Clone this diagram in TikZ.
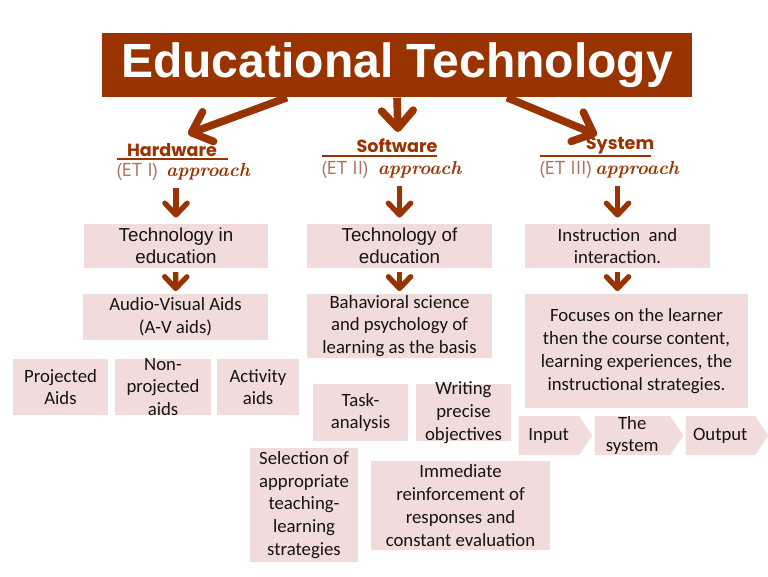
\documentclass[tikz,border=0pt]{standalone}
\usepackage{fontspec}
\usepackage{xcolor}
\usepackage{tikz}
\usetikzlibrary{arrows.meta,shapes.symbols}
\setmainfont{Carlito}
\newfontfamily\arialfont{Liberation Sans}
\newfontfamily\headfont{Poppins}
\newfontfamily\thinfont{PT Sans}
\newfontfamily\apprfont{Latin Modern Roman}
\definecolor{rust}{RGB}{153,51,0}
\definecolor{boxpink}{RGB}{242,220,219}
\definecolor{subgray}{RGB}{170,115,95}
\definecolor{txt}{RGB}{20,20,20}
\newcommand{\apprtxt}{{\apprfont\bfseries\itshape\color{rust}\fontsize{16}{16}\selectfont approach}}

\begin{document}
\begin{tikzpicture}[x=0.03cm, y=-0.03cm, line width=1pt,
  sz/.style 2 args={minimum width=#1*0.03cm, minimum height=#2*0.03cm},
  box/.style={fill=boxpink, text=txt, align=center, inner sep=0pt, font=\fontsize{16}{19.5}\selectfont},
  chev/.style={box, shape=signal, signal to=east, signal pointer angle=110, anchor=west},
  bigarr/.style={draw=rust, line width=6.5pt, -{Straight Barb[length=15pt,width=27pt,round]}},
  arr/.style={draw=rust, line width=4.5pt, -{Straight Barb[length=10pt,width=19pt,round]}},
  head/.style={text=rust, font=\headfont\bfseries\fontsize{15}{16}\selectfont, inner sep=0pt},
  sub/.style={text=subgray, font=\thinfont\fontsize{16}{18}\selectfont, inner sep=0pt, anchor=west},
  uline/.style={draw=rust, line width=1.2pt}]
\useasboundingbox (0,0) rectangle (768,576);

% title
\node[fill=rust, text=white, sz={590}{64}, font=\arialfont\bfseries\fontsize{41}{41}\selectfont] (title) at (397,65) {Educational Technology};

% three approaches
\node[head] (hw) at (172,150) {Hardware};
\draw[uline] (117,159) -- (228,159);
\node[sub] (hwsub) at (116,172) {(ET I)\hspace{7pt}\apprtxt};

\node[head] (sw) at (397,146) {Software};
\draw[uline] (322,156) -- (437,156);
\node[sub] (swsub) at (321,170) {(ET II)\hspace{8pt}\apprtxt};

\node[head] (sys) at (620,146) {System};
\draw[uline] (540,156) -- (651,156);
\node[sub] (syssub) at (539,170) {(ET III)\hspace{3pt}\apprtxt};

\coordinate (hwtip) at (188,134);
\coordinate (swtip) at (398,132);
\coordinate (systip) at (597,135);
\draw[bigarr] (287,0 |- title.south) -- (hwtip);
\draw[bigarr] (title.south) -- (swtip);
\draw[bigarr] (507,0 |- title.south) -- (systip);

% boxes
\node[box, sz={184}{44}, font=\arialfont\fontsize{16}{18.5}\selectfont] (techin) at (176,246) {Technology in\\education};
\node[box, sz={185}{44}, font=\arialfont\fontsize{16}{18.5}\selectfont] (techof) at (399.5,246) {Technology of\\education};
\node[box, sz={185}{44}] (instr) at (617.5,246) {Instruction\ \ and\\interaction.};

\node[box, sz={185}{46}] (av) at (175.5,317) {Audio-Visual Aids\\(A-V aids)};
\node[box, sz={185}{64}] (behav) at (399.5,326) {Bahavioral science\\and psychology of\\learning as the basis};
\node[box, sz={223}{114}] (focus) at (636.5,351) {Focuses on the learner\\then the course content,\\learning experiences, the\\instructional strategies.};

\node[box, sz={95}{56}] (proj) at (60.5,387) {Projected\\Aids};
\node[box, sz={96}{56}, inner ysep=-6pt] (nonproj) at (163,387) {Non-\\projected\\aids};
\node[box, sz={82}{56}] (act) at (258,387) {Activity\\aids};

\node[box, sz={95}{57}] (task) at (360.5,412.5) {Task-\\analysis};
\node[box, sz={95}{57}, inner ysep=-6pt] (writing) at (463.5,412.5) {Writing\\precise\\objectives};
\node[box, sz={108}{114}] (select) at (304,505) {Selection of\\appropriate\\teaching-\\learning\\strategies};
\node[box, sz={179}{89}] (immed) at (460.5,505.5) {Immediate\\reinforcement of\\responses and\\constant evaluation};

\node[chev, sz={74}{39}] (input) at (518,435.5) {Input};
\node[chev, sz={89}{39}, inner ysep=-6pt] (system) at (594,435.5) {The\\system};
\node[chev, sz={83}{39}] (output) at (685,435.5) {Output};

% arrows down
\draw[arr, shorten <=6pt, shorten >=5pt] (techin.north |- hwsub.south) -- (techin.north);
\draw[arr, shorten <=6pt, shorten >=5pt] (techof.north |- swsub.south) -- (techof.north);
\draw[arr, shorten <=6pt, shorten >=5pt] (instr.north |- syssub.south) -- (instr.north);
\draw[arr, shorten <=3pt, shorten >=2pt] (techin) -- (av);
\draw[arr, shorten <=3pt, shorten >=2pt] (techof) -- (behav);
\draw[arr, shorten <=3pt, shorten >=2pt] (instr.south) -- (instr.south |- focus.north);
\end{tikzpicture}
\end{document}
